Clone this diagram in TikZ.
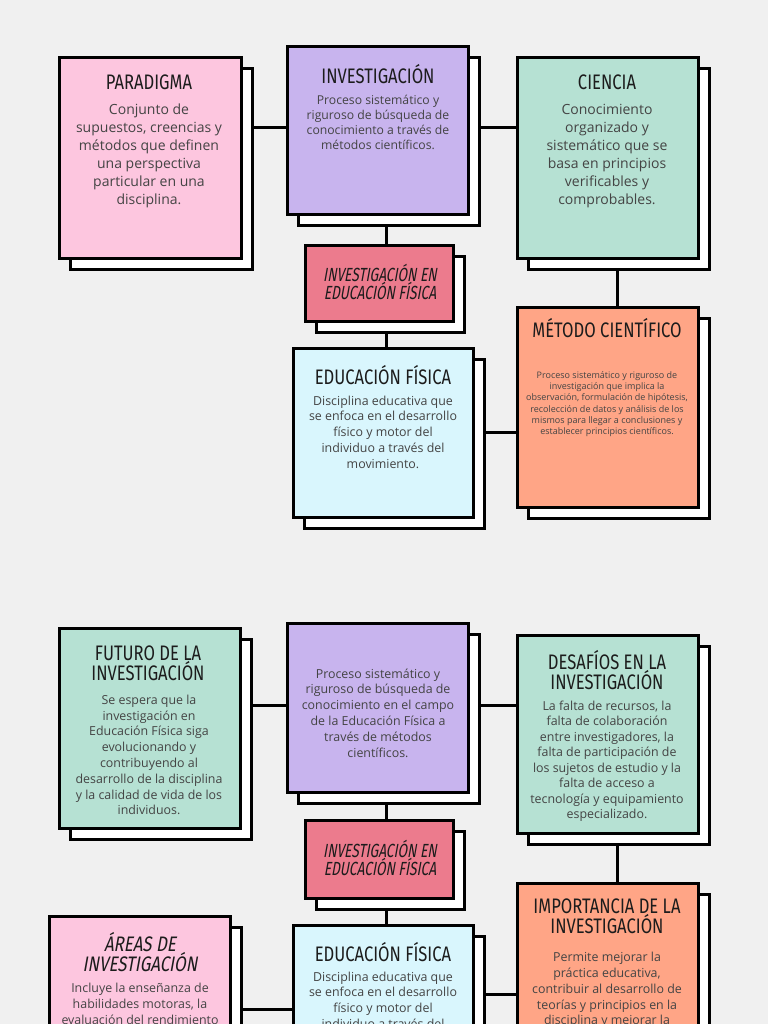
\documentclass[tikz,border=0pt]{standalone}
\usepackage{fontspec}
\setmainfont{Open Sans}
\newfontfamily\bodyfont{Open Sans}
\newfontfamily\tfont[FakeStretch=0.79]{Fira Sans}
\newfontfamily\tifont[FakeStretch=0.72,FakeSlant=0.18]{Fira Sans}
\newfontfamily\tibfont[FakeStretch=0.8,FakeSlant=0.18]{Fira Sans}
\pgfdeclarelayer{paper}
\pgfdeclarelayer{conn}
\pgfsetlayers{paper,conn,main}
\definecolor{paperc}{HTML}{F0F0F0}
\definecolor{pinkc}{HTML}{FDC6DF}
\definecolor{purpc}{HTML}{C8B4EE}
\definecolor{mintc}{HTML}{B6E1D3}
\definecolor{redc}{HTML}{EC7B8D}
\definecolor{bluec}{HTML}{D9F6FD}
\definecolor{salmc}{HTML}{FFA586}
\definecolor{txtc}{HTML}{444444}
\definecolor{ttlc}{HTML}{1C1C1C}
\tikzset{
  mainbox/.style={draw=black, line width=3pt, inner sep=0pt, outer sep=0pt},
  shadowbox/.style={draw=black, fill=white, line width=3pt, inner sep=0pt, outer sep=0pt},
  conline/.style={draw=black, line width=3pt},
  ttl/.style={align=center, inner sep=0pt, text=ttlc, font=\tfont\fontsize{21}{20}\selectfont},
  ttli/.style={align=center, inner sep=0pt, text=ttlc, font=\tifont\fontsize{19}{17.5}\selectfont},
  bodyL/.style={align=center, inner sep=0pt, text=txtc, font=\bodyfont\fontsize{14}{18}\selectfont},
  bodyM/.style={align=center, inner sep=0pt, text=txtc, font=\bodyfont\fontsize{12.4}{15.8}\selectfont},
  bodyS/.style={align=center, inner sep=0pt, text=txtc, font=\bodyfont\fontsize{9}{11.3}\selectfont},
}
\newcommand\mkbox[6]{%
  \node[shadowbox, minimum width=#4-#2, minimum height=#5-#3, anchor=north west] (#1s) at (#2+11,#3+11) {};
  \node[mainbox, fill=#6, minimum width=#4-#2, minimum height=#5-#3, anchor=north west] (#1) at (#2,#3) {};
}
\begin{document}
\begin{tikzpicture}[x=1pt,y=-1pt]
\useasboundingbox (0,0) rectangle (768,1024);
\clip (0,0) rectangle (768,1024);
\begin{pgfonlayer}{paper}
\fill[paperc] (0,0) rectangle (768,1024);
\end{pgfonlayer}

% ---------- top section ----------
\mkbox{par}{59}{58}{241}{258}{pinkc}
\mkbox{inv}{287}{47}{468}{215}{purpc}
\mkbox{cie}{517}{58}{698}{258}{mintc}
\mkbox{ief}{305}{245}{453}{321}{redc}
\mkbox{ef}{293}{348}{473}{517}{bluec}
\mkbox{met}{517}{307}{698}{507}{salmc}

\node[ttl] (par-t) at (149,82) {PARADIGMA};
\node[bodyL] (par-b) at (149,156) {Conjunto de\\supuestos, creencias y\\métodos que definen\\una perspectiva\\particular en una\\disciplina.};
\node[ttl] (inv-t) at (378,74) {INVESTIGACIÓN};
\node[bodyM, font=\bodyfont\fontsize{12.2}{15}\selectfont] (inv-b) at (378,122) {Proceso sistemático y\\riguroso de búsqueda de\\conocimiento a través de\\métodos científicos.};
\node[ttl] (cie-t) at (607,82) {CIENCIA};
\node[bodyL] (cie-b) at (607,156) {Conocimiento\\organizado y\\sistemático que se\\basa en principios\\verificables y\\comprobables.};
\node[ttli] (ief-t) at (380,282) {INVESTIGACIÓN EN\\EDUCACIÓN FÍSICA};
\node[ttl] (ef-t) at (383,375) {EDUCACIÓN FÍSICA};
\node[bodyM] (ef-b) at (383,432) {Disciplina educativa que\\se enfoca en el desarrollo\\físico y motor del\\individuo a través del\\movimiento.};
\node[ttl] (met-t) at (607,328) {MÉTODO CIENTÍFICO};
\node[bodyS] (met-b) at (607,404) {Proceso sistemático y riguroso de\\investigación que implica la\\observación, formulación de hipótesis,\\recolección de datos y análisis de los\\mismos para llegar a conclusiones y\\establecer principios científicos.};

% ---------- bottom section ----------
\mkbox{fut}{59}{628}{240}{828}{mintc}
\mkbox{inv2}{287}{623}{468}{792}{purpc}
\mkbox{des}{517}{635}{698}{833}{mintc}
\mkbox{ief2}{305}{820}{453}{898}{redc}
\mkbox{ef2}{293}{925}{473}{1110}{bluec}
\mkbox{are}{49}{916}{230}{1110}{pinkc}
\mkbox{imp}{517}{883}{698}{1110}{salmc}

\node[ttl] (fut-t) at (148,663) {FUTURO DE LA\\INVESTIGACIÓN};
\node[bodyM] (fut-b) at (149,755) {Se espera que la\\investigación en\\Educación Física siga\\evolucionando y\\contribuyendo al\\desarrollo de la disciplina\\y la calidad de vida de los\\individuos.};
\node[bodyM] (inv2-b) at (378,713) {Proceso sistemático y\\riguroso de búsqueda de\\conocimiento en el campo\\de la Educación Física a\\través de métodos\\científicos.};
\node[ttl] (des-t) at (607,670) {DESAFÍOS EN LA\\INVESTIGACIÓN};
\node[bodyM, font=\bodyfont\fontsize{12.4}{15.5}\selectfont] (des-b) at (607,761) {La falta de recursos, la\\falta de colaboración\\entre investigadores, la\\falta de participación de\\los sujetos de estudio y la\\falta de acceso a\\tecnología y equipamiento\\especializado.};
\node[ttli] (ief2-t) at (380,858) {INVESTIGACIÓN EN\\EDUCACIÓN FÍSICA};
\node[ttl] (ef2-t) at (383,952) {EDUCACIÓN FÍSICA};
\node[bodyM] (ef2-b) at (383,1008) {Disciplina educativa que\\se enfoca en el desarrollo\\físico y motor del\\individuo a través del\\movimiento.};
\node[ttli, font=\tibfont\fontsize{21}{20}\selectfont] (are-t) at (140,952) {ÁREAS DE\\INVESTIGACIÓN};
\node[bodyM] (are-b) at (140,1004) {Incluye la enseñanza de\\habilidades motoras, la\\evaluación del rendimiento};
\node[ttl] (imp-t) at (607,916) {IMPORTANCIA DE LA\\INVESTIGACIÓN};
\node[bodyM] (imp-b) at (607,990) {Permite mejorar la\\práctica educativa,\\contribuir al desarrollo de\\teorías y principios en la\\disciplina y mejorar la};

% ---------- connectors ----------
\coordinate (hA) at (0,128);
\coordinate (hB) at (0,432);
\coordinate (hC) at (0,705);
\coordinate (hD) at (0,1009);
\coordinate (hE) at (0,994);
\coordinate (vA) at (386,0);
\coordinate (vB) at (617,0);
\begin{pgfonlayer}{conn}
\draw[conline] (par.east |- hA) -- (inv.west |- hA);
\draw[conline] (inv.east |- hA) -- (cie.west |- hA);
\draw[conline] (inv.south -| vA) -- (ief.north -| vA);
\draw[conline] (ief.south -| vA) -- (ef.north -| vA);
\draw[conline] (cie.south -| vB) -- (met.north -| vB);
\draw[conline] (ef.east |- hB) -- (met.west |- hB);
\draw[conline] (fut.east |- hC) -- (inv2.west |- hC);
\draw[conline] (inv2.east |- hC) -- (des.west |- hC);
\draw[conline] (inv2.south -| vA) -- (ief2.north -| vA);
\draw[conline] (ief2.south -| vA) -- (ef2.north -| vA);
\draw[conline] (des.south -| vB) -- (imp.north -| vB);
\draw[conline] (are.east |- hD) -- (ef2.west |- hD);
\draw[conline] (ef2.east |- hE) -- (imp.west |- hE);
\end{pgfonlayer}
\end{tikzpicture}
\end{document}
